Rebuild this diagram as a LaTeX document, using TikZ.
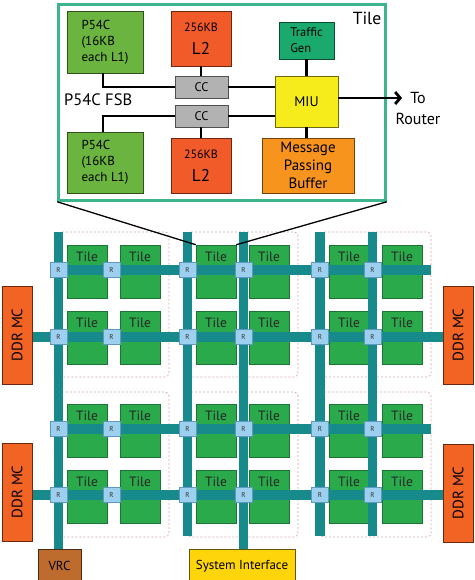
\documentclass[tikz,border=0pt]{standalone}
\usepackage{fontspec}
\setmainfont{PT Sans}
\usetikzlibrary{arrows.meta}
\definecolor{barcol}{HTML}{178B8C}
\definecolor{tilecol}{HTML}{2BAA4B}
\definecolor{tileline}{HTML}{1E7436}
\definecolor{rfill}{HTML}{9CD0EE}
\definecolor{rline}{HTML}{5D98C0}
\definecolor{ddrcol}{HTML}{F26424}
\definecolor{ddrline}{HTML}{6A2810}
\definecolor{vrccol}{HTML}{BE6B2E}
\definecolor{sicol}{HTML}{FED40B}
\definecolor{insetcol}{HTML}{3CB58A}
\definecolor{p54col}{HTML}{6BB43F}
\definecolor{l2col}{HTML}{F15A29}
\definecolor{cccol}{HTML}{B2B2B2}
\definecolor{miucol}{HTML}{F6EC1B}
\definecolor{tgcol}{HTML}{1BAA6E}
\definecolor{mpbcol}{HTML}{F7941E}
\definecolor{grpcol}{HTML}{D0A3AC}
\newcommand\fsz[2]{\fontsize{#1}{#2}\selectfont}
\begin{document}
\begin{tikzpicture}[x=1pt,y=-1pt,
  blk/.style={fill=#1, draw=#1!45!black, line width=0.6pt, inner sep=0pt, align=center},
  wh/.style 2 args={minimum width=#1pt, minimum height=#2pt},
  wire/.style={line width=2.8pt, black},
  zoomline/.style={line width=1.3pt, black},
  bar/.style={line width=9.5pt, barcol},
  grp/.style={draw=grpcol, line width=0.7pt, dash pattern=on 2pt off 2pt, rounded corners=4pt},
  tilebox/.style={fill=tilecol, draw=tileline, line width=0.6pt, inner sep=0pt, wh={40}{53},
    label={[font=\fsz{13.5}{14}, anchor=north, yshift=-7.5pt, inner sep=0pt, text=black!85]north:Tile}},
  rbox/.style={fill=rfill, draw=rline, line width=0.6pt, wh={17}{15}, inner sep=0pt, font=\fsz{7}{8}, text=black!80},
  ddr/.style={blk=ddrcol, draw=ddrline, line width=1pt, wh={30}{98}, font=\fsz{15}{16}}
]
\useasboundingbox (0,0) rectangle (474,580);

% ---------------- inset ----------------
\node[draw=insetcol, line width=2.6pt, fill=white, wh={327}{196}] (inset) at (222,102.5) {};
\node[font=\fsz{17.5}{20}, inner sep=0pt] (tilelbl) at (367,18) {Tile};
\node[blk=p54col, wh={76}{62}, align=left, font=\fsz{13}{16}] (p1) at (105,42) {P54C\\(16KB\\each L1)};
\node[blk=l2col, wh={60}{55}, font=\fsz{12}{14.4}] (l2t) at (201,38.5) {256KB\\[8.4pt]{\fsz{17}{20}L2}};
\node[blk=tgcol, wh={55}{37}, align=left, font=\fsz{12.5}{16}] (tg) at (306.5,40.5) {Traffic\\Gen};
\node[blk=cccol, wh={53}{22}, font=\fsz{12.5}{14}] (cc1) at (201.5,87) {CC};
\node[blk=cccol, wh={53}{22}, font=\fsz{12.5}{14}] (cc2) at (201.5,116) {CC};
\node[blk=miucol, wh={63}{51}, font=\fsz{14}{16}] (miu) at (306.5,101.5) {MIU};
\node[blk=mpbcol, wh={92}{55}, font=\fsz{15}{18}] (mpb) at (308,165.5) {Message\\Passing\\Buffer};
\node[blk=p54col, wh={76}{61}, align=left, font=\fsz{13}{16}] (p2) at (105,162.5) {P54C\\(16KB\\each L1)};
\node[blk=l2col, wh={60}{55}, font=\fsz{12}{14.4}] (l2b) at (201,165.5) {256KB\\[8.4pt]{\fsz{17}{20}L2}};
\node[anchor=west, inner sep=0pt, font=\fsz{16.5}{18}] (fsb) at (64,100) {P54C FSB};
\node[font=\fsz{16}{21}, align=center, inner sep=0pt] (tr) at (418,108.5) {To\\Router};
\coordinate (rt) at (402,98);

\draw[wire] (cc1.west) -| ([xshift=-2pt]p1.south);
\draw[wire] (cc2.west) -| ([xshift=-2pt]p2.north);
\draw[wire] (cc1.east) -- (cc1.east -| miu.west);
\draw[wire] (cc2.east) -- (cc2.east -| miu.west);
\draw[wire] (l2t.south) -- (l2t.south |- cc1.north);
\draw[wire] (cc2.south -| l2b.north) -- (l2b.north);
\draw[wire] (tg.south) -- (tg.south |- miu.north);
\draw[wire] (miu.south) -- (miu.south |- mpb.north);
\draw[wire, -{Straight Barb[length=5pt,width=12pt]}] (miu.east |- rt) -- (rt);

% ---------------- grid ----------------
\foreach \y in {232,392} {
  \draw[grp] (58.5,\y) rectangle (169,\y+145);
  \draw[grp] (187.5,\y) rectangle (298,\y+145);
  \draw[grp] (320,\y) rectangle (431,\y+145);
}

\foreach \x [count=\c] in {87,140,216,269,349,402} {
  \foreach \y [count=\r] in {271.5,337.5,430.5,496.5} {
    \node[tilebox] (t\c\r) at (\x,\y) {};
  }
}

\foreach \x [count=\c] in {58.5,111.5,187.5,243.5,320,372.5} {
  \foreach \y [count=\r] in {270,337,429,495} {
    \coordinate (R\c\r) at (\x,\y);
  }
}

\node[ddr] (ddrl1) at (17,335) {\rotatebox{90}{DDR MC}};
\node[ddr] (ddrl2) at (17,492) {\rotatebox{90}{DDR MC}};
\node[ddr] (ddrr1) at (458,335) {\rotatebox{90}{DDR MC}};
\node[ddr] (ddrr2) at (458,493) {\rotatebox{90}{DDR MC}};
\node[blk=vrccol, draw=vrccol!40!black, wh={43}{34}, font=\fsz{13}{14}] (vrc) at (59.5,566) {VRC};
\node[blk=sicol, draw=sicol!40!black, wh={106}{34}, font=\fsz{13}{14}] (si) at (242,566) {System Interface};

% vertical bars
\coordinate (V1) at (58.5,232);
\coordinate (V3) at (187.5,232);
\coordinate (V4) at (243.5,232);
\coordinate (V5) at (320,232);
\coordinate (V6) at (372.5,232);
\draw[bar] (V1) -- (V1 |- vrc.north);
\draw[bar] (V3) -- ([yshift=-41pt]R34);
\draw[bar] (V4) -- (V4 |- si.north);
\draw[bar] (V5) -- ([yshift=-41pt]R54);
\draw[bar] (V6) -- ([yshift=-41pt]R64);

% horizontal bars
\coordinate (E1) at (431,270);
\coordinate (E3) at (431,429);
\draw[bar] (R11) -- (E1);
\draw[bar] (R13) -- (E3);
\draw[bar] (ddrl1.east |- R12) -- (ddrr1.west |- R12);
\draw[bar] (ddrl2.east |- R14) -- (ddrr2.west |- R14);

% routers
\foreach \c in {1,...,6} {
  \foreach \r in {1,...,4} {
    \node[rbox] (r\c\r) at (R\c\r) {R};
  }
}

% zoom lines
\draw[zoomline] (inset.south west) -- (t31.north west);
\draw[zoomline] (inset.south east) -- (t31.north east);
\end{tikzpicture}
\end{document}
